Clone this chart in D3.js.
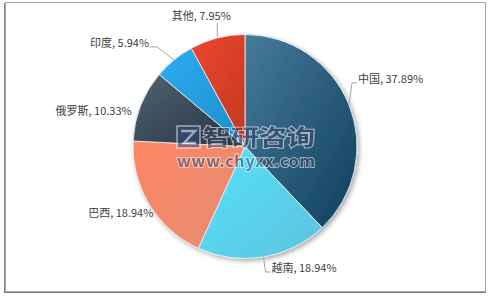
<!DOCTYPE html>
<html>
<head>
<meta charset="utf-8">
<script src="https://cdn.jsdelivr.net/npm/d3@7"></script>
<style>
  body { margin: 0; background: #fff; }
  svg { display: block; }
  text { font-family: "Microsoft YaHei", "Noto Sans CJK SC", sans-serif; }
</style>
</head>
<body>
<div id="chart"></div>
<script>
// data
var countries = ['中国', '越南', '巴西', '俄罗斯', '印度', '其他'];
var shares = [37.89, 18.94, 18.94, 10.33, 5.94, 7.95];
var colorsLight = ['#477a9a', '#57e3fb', '#fd8563', '#506271', '#2fadf3', '#f14631'];
var colorsDark = ['#0f405c', '#5cc2de', '#e58e75', '#27343f', '#1a8cc6', '#c0381f'];

var width = 491, height = 296;
var cx = 245, cy = 146.5, radius = 112;

// label nudges from the arc edge at each slice's middle angle
var labelLayout = [
  {dx: 9, dy: -26, anchor: 'start', leader: true},
  {dx: 8, dy: 11, anchor: 'start', leader: true},
  {dx: 4, dy: 8, anchor: 'end', leader: false},
  {dx: -9, dy: 5, anchor: 'end', leader: false},
  {dx: -25, dy: -17, anchor: 'end', leader: true},
  {dx: -16, dy: -22, anchor: 'middle', leader: true}
];

var svg = d3.select('#chart').append('svg')
  .attr('width', width)
  .attr('height', height);

var defs = svg.append('defs');

var shadow = defs.append('filter').attr('id', 'pieShadow')
  .attr('x', '-10%').attr('y', '-10%').attr('width', '125%').attr('height', '125%');
shadow.append('feGaussianBlur').attr('in', 'SourceAlpha').attr('stdDeviation', 2.5);
shadow.append('feOffset').attr('dx', 1.5).attr('dy', 2).attr('result', 'b');
shadow.append('feComponentTransfer').append('feFuncA').attr('type', 'linear').attr('slope', 0.35);
var merge = shadow.append('feMerge');
merge.append('feMergeNode');
merge.append('feMergeNode').attr('in', 'SourceGraphic');

countries.forEach(function(c, i) {
  var g = defs.append('linearGradient').attr('id', 'grad' + i)
    .attr('x1', 0).attr('y1', 0).attr('x2', 1).attr('y2', 1);
  g.append('stop').attr('offset', '0%').attr('stop-color', colorsLight[i]);
  g.append('stop').attr('offset', '100%').attr('stop-color', colorsDark[i]);
});

// frame
svg.append('rect')
  .attr('x', 5.5).attr('y', 2.5)
  .attr('width', 480).attr('height', 289)
  .attr('fill', 'none')
  .attr('stroke', '#a8a8a8');
svg.append('line').attr('x1', 4.5).attr('y1', 3).attr('x2', 4.5).attr('y2', 293)
  .attr('stroke', '#7f7f7f');
svg.append('line').attr('x1', 4).attr('y1', 292.5).attr('x2', 486).attr('y2', 292.5)
  .attr('stroke', '#7f7f7f');

var pie = d3.pie().sort(null).value(function(d) { return d; });
var arcs = pie(shares);
var arc = d3.arc().innerRadius(0).outerRadius(radius);

var pieG = svg.append('g')
  .attr('transform', 'translate(' + cx + ',' + cy + ')');

var slices = pieG.append('g').attr('filter', 'url(#pieShadow)');
slices.selectAll('path')
  .data(arcs)
  .enter()
  .append('path')
  .attr('d', arc)
  .attr('fill', function(d, i) { return 'url(#grad' + i + ')'; })
  .attr('stroke', '#f4f4f4')
  .attr('stroke-width', 0.8)
  .attr('stroke-linejoin', 'round');

// labels
var fontSize = 11;
arcs.forEach(function(d, i) {
  var mid = (d.startAngle + d.endAngle) / 2;
  var px = Math.sin(mid) * radius;
  var py = -Math.cos(mid) * radius;
  var L = labelLayout[i];
  var tx = px + L.dx, ty = py + L.dy;

  if (L.leader) {
    var pts;
    if (L.anchor === 'middle') {
      pts = [[px, py - 1], [px, ty + 7]];
    } else if (L.anchor === 'start') {
      pts = [[px, py], [tx - 6, ty + 4], [tx - 1, ty + 4]];
    } else {
      pts = [[px, py], [tx + 8, ty + 4], [tx + 1, ty + 4]];
    }
    pieG.append('path')
      .attr('d', d3.line()(pts))
      .attr('fill', 'none')
      .attr('stroke', '#a6a6a6')
      .attr('stroke-width', 1);
  }

  pieG.append('text')
    .attr('x', tx)
    .attr('y', ty)
    .attr('dy', '0.35em')
    .attr('text-anchor', L.anchor)
    .attr('font-size', fontSize)
    .attr('fill', '#404040')
    .text(countries[i] + ', ' + shares[i].toFixed(2) + '%');
});

// watermark
var wm = svg.append('g').attr('opacity', 0.55);
wm.append('rect')
  .attr('x', 177).attr('y', 126).attr('width', 23).attr('height', 22)
  .attr('fill', '#2d4a8a').attr('stroke', '#ffffff').attr('stroke-width', 1.5);
wm.append('path')
  .attr('d', 'M181,131 L195,131 L184,143 L196,143')
  .attr('fill', 'none').attr('stroke', '#ffffff').attr('stroke-width', 2.5);
wm.append('text')
  .attr('x', 203).attr('y', 145)
  .attr('font-size', 22)
  .attr('font-weight', 'bold')
  .attr('fill', '#3a4668')
  .attr('stroke', '#ffffff')
  .attr('stroke-width', 2)
  .attr('paint-order', 'stroke')
  .attr('textLength', 112)
  .attr('lengthAdjust', 'spacingAndGlyphs')
  .text('智研咨询');
wm.append('text')
  .attr('x', 177).attr('y', 167)
  .attr('font-size', 16)
  .attr('font-family', 'DejaVu Sans, sans-serif')
  .attr('font-weight', 'bold')
  .attr('fill', '#3a4668')
  .attr('stroke', '#ffffff')
  .attr('stroke-width', 2)
  .attr('paint-order', 'stroke')
  .attr('textLength', 138)
  .text('www.chyxx.com');
</script>
</body>
</html>
